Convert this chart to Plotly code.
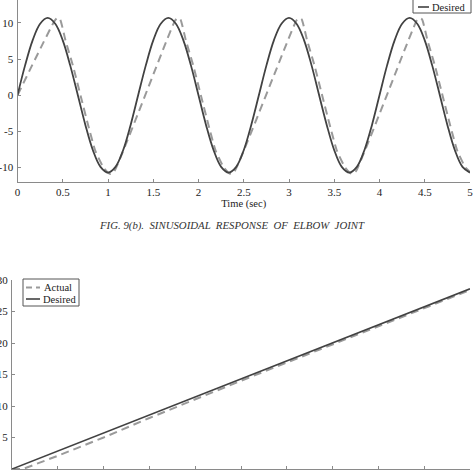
import plotly.graph_objects as go

W = H = 474

# ---------------- data: sinusoidal response (top) ----------------
desired_t = [0, 0.083, 0.167, 0.25, 0.333, 0.417, 0.5, 0.583, 0.667, 0.75, 0.833, 0.917,
             1.0, 1.083, 1.167, 1.25, 1.333, 1.417, 1.5, 1.583, 1.667, 1.75, 1.833, 1.917,
             2.0, 2.083, 2.167, 2.25, 2.333, 2.417, 2.5, 2.583, 2.667, 2.75, 2.833, 2.917,
             3.0, 3.083, 3.167, 3.25, 3.333, 3.417, 3.5, 3.583, 3.667, 3.75, 3.833, 3.917,
             4.0, 4.083, 4.167, 4.25, 4.333, 4.417, 4.5, 4.583, 4.667, 4.75, 4.833, 4.917, 5.0]
desired_y = [0, 4.1, 7.6, 9.9, 10.7, 9.9, 7.6, 4.1, 0, -4.1, -7.6, -9.9,
             -10.7, -9.9, -7.6, -4.1, 0, 4.1, 7.6, 9.9, 10.7, 9.9, 7.6, 4.1,
             0, -4.1, -7.6, -9.9, -10.7, -9.9, -7.6, -4.1, 0, 4.1, 7.6, 9.9,
             10.7, 9.9, 7.6, 4.1, 0, -4.1, -7.6, -9.9, -10.7, -9.9, -7.6, -4.1,
             0, 4.1, 7.6, 9.9, 10.7, 9.9, 7.6, 4.1, 0, -4.1, -7.6, -9.9, -10.7]

actual_t = [0, 0.41, 0.44, 0.47, 0.53, 0.61, 0.70, 0.78, 0.86, 0.95, 1.00, 1.03, 1.07,
            1.74, 1.77, 1.80, 1.86, 1.94, 2.03, 2.11, 2.19, 2.28, 2.33, 2.36, 2.40,
            3.08, 3.11, 3.14, 3.20, 3.28, 3.37, 3.45, 3.53, 3.62, 3.67, 3.70, 3.74,
            4.41, 4.44, 4.47, 4.53, 4.61, 4.70, 4.78, 4.86, 4.95, 5.00]
actual_y = [0, 10.3, 10.7, 10.5, 7.6, 4.2, -0.2, -4.1, -7.7, -10.0, -10.7, -10.9, -10.5,
            10.3, 10.7, 10.5, 7.6, 4.2, -0.2, -4.1, -7.7, -10.0, -10.7, -10.9, -10.5,
            10.3, 10.7, 10.5, 7.6, 4.2, -0.2, -4.1, -7.7, -10.0, -10.7, -10.9, -10.5,
            10.3, 10.7, 10.5, 7.6, 4.2, -0.2, -4.1, -7.7, -10.0, -10.6]

top_xticks = [0, 0.5, 1, 1.5, 2, 2.5, 3, 3.5, 4, 4.5, 5]
top_yticks = [-10, -5, 0, 5, 10]

# ---------------- data: ramp response (bottom) ----------------
ramp_t = [0, 0.5, 1.0, 1.5, 2.0, 2.5, 3.0, 3.5, 4.0, 4.5, 5.0]
ramp_desired = [0, 2.86, 5.72, 8.58, 11.44, 14.3, 17.16, 20.02, 22.88, 25.74, 28.6]
ramp_actual_t = [0, 0.12, 0.5, 1.0, 1.5, 2.0, 2.5, 3.0, 3.5, 4.0, 4.5, 5.0]
ramp_actual = [0, 0.0, 2.1, 5.0, 8.1, 11.1, 14.0, 16.9, 19.8, 22.7, 25.5, 28.4]
bot_yticks = [0, 5, 10, 15, 20, 25, 30]
bot_xticks = [0, 0.5, 1, 1.5, 2, 2.5, 3, 3.5, 4, 4.5, 5]

DES_COLOR = "#424242"
ACT_COLOR = "#9a9a9a"
AX_COLOR = "#8a8a8a"
FONT = "'Liberation Serif', 'Times New Roman', serif"


def px(x):
    return x / W


def py(y):
    return (H - y) / H


fig = go.Figure()

fig.add_trace(go.Scatter(x=actual_t, y=actual_y, mode="lines", name="Actual",
                         line=dict(color=ACT_COLOR, width=2, dash="8px,5px", shape="spline", smoothing=0.5),
                         xaxis="x", yaxis="y", showlegend=False))
fig.add_trace(go.Scatter(x=desired_t, y=desired_y, mode="lines", name="Desired",
                         line=dict(color=DES_COLOR, width=1.8, shape="spline", smoothing=1.0),
                         xaxis="x", yaxis="y", showlegend=False))

fig.add_trace(go.Scatter(x=ramp_actual_t, y=ramp_actual, mode="lines", name="Actual",
                         line=dict(color=ACT_COLOR, width=2, dash="8px,5px"),
                         xaxis="x2", yaxis="y2", showlegend=False))
fig.add_trace(go.Scatter(x=ramp_t, y=ramp_desired, mode="lines", name="Desired",
                         line=dict(color=DES_COLOR, width=1.6),
                         xaxis="x2", yaxis="y2", showlegend=False))

axis_common = dict(showgrid=False, zeroline=False, showline=True, linecolor=AX_COLOR,
                   linewidth=1.2, ticks="inside", ticklen=3, tickcolor=AX_COLOR,
                   automargin=False,
                   tickfont=dict(family=FONT, size=11, color="#222"))

fig.update_layout(
    width=W, height=H,
    margin=dict(l=0, r=0, t=0, b=0, autoexpand=False),
    paper_bgcolor="white", plot_bgcolor="white",
    xaxis=dict(axis_common, domain=[px(17.5), px(470)], range=[0, 5],
               tickvals=top_xticks, ticktext=[str(v) for v in top_xticks],
               anchor="y",
               title=dict(text="Time (sec)", font=dict(family=FONT, size=10.5, color="#222"), standoff=2)),
    yaxis=dict(axis_common, domain=[py(182), 1.0], range=[-12, 13.18],
               tickvals=top_yticks, ticktext=[str(v) for v in top_yticks],
               anchor="x", ticklabelstandoff=1),
    xaxis2=dict(axis_common, domain=[px(12), px(470)], range=[0, 5],
                tickvals=bot_xticks, ticktext=[str(v) for v in bot_xticks],
                anchor="y2"),
    yaxis2=dict(axis_common, domain=[py(469), py(280)], range=[0, 30],
                tickvals=bot_yticks, ticktext=[str(v) for v in bot_yticks],
                anchor="x2", ticklabelstandoff=1),
)

shapes = []
annotations = []

# caption
annotations.append(dict(text="FIG. 9(b).  SINUSOIDAL  RESPONSE  OF  ELBOW  JOINT",
                        x=px(232), y=py(226), xref="paper", yref="paper",
                        showarrow=False, xanchor="center", yanchor="middle",
                        font=dict(family=FONT, size=10.8, color="#333", style="italic")))

# top legend (upper part cropped off the page)
shapes.append(dict(type="rect", xref="paper", yref="paper",
                   x0=px(413), x1=px(471), y0=py(13), y1=py(-20),
                   line=dict(color="#555", width=1), fillcolor="white"))
shapes.append(dict(type="line", xref="paper", yref="paper",
                   x0=px(418), x1=px(429), y0=py(7), y1=py(7),
                   line=dict(color=DES_COLOR, width=1.6)))
annotations.append(dict(text="Desired", x=px(430), y=py(7), xref="paper", yref="paper",
                        showarrow=False, xanchor="left", yanchor="middle",
                        font=dict(family=FONT, size=10.5, color="#222")))

# bottom legend
shapes.append(dict(type="rect", xref="paper", yref="paper",
                   x0=px(23), x1=px(79), y0=py(306), y1=py(279),
                   line=dict(color="#555", width=1), fillcolor="white"))
shapes.append(dict(type="line", xref="paper", yref="paper",
                   x0=px(26), x1=px(40), y0=py(287.5), y1=py(287.5),
                   line=dict(color=ACT_COLOR, width=2, dash="6px,4px")))
annotations.append(dict(text="Actual", x=px(42), y=py(287.5), xref="paper", yref="paper",
                        showarrow=False, xanchor="left", yanchor="middle",
                        font=dict(family=FONT, size=10.5, color="#222")))
shapes.append(dict(type="line", xref="paper", yref="paper",
                   x0=px(26), x1=px(40), y0=py(299), y1=py(299),
                   line=dict(color=DES_COLOR, width=1.6)))
annotations.append(dict(text="Desired", x=px(41), y=py(299), xref="paper", yref="paper",
                        showarrow=False, xanchor="left", yanchor="middle",
                        font=dict(family=FONT, size=10.5, color="#222")))

fig.update_layout(shapes=shapes, annotations=annotations)

fig.write_html("out.html", config={"displayModeBar": False},
               post_script="document.body.style.margin='0';document.body.style.padding='0';"
                           "document.body.style.overflow='hidden';")
